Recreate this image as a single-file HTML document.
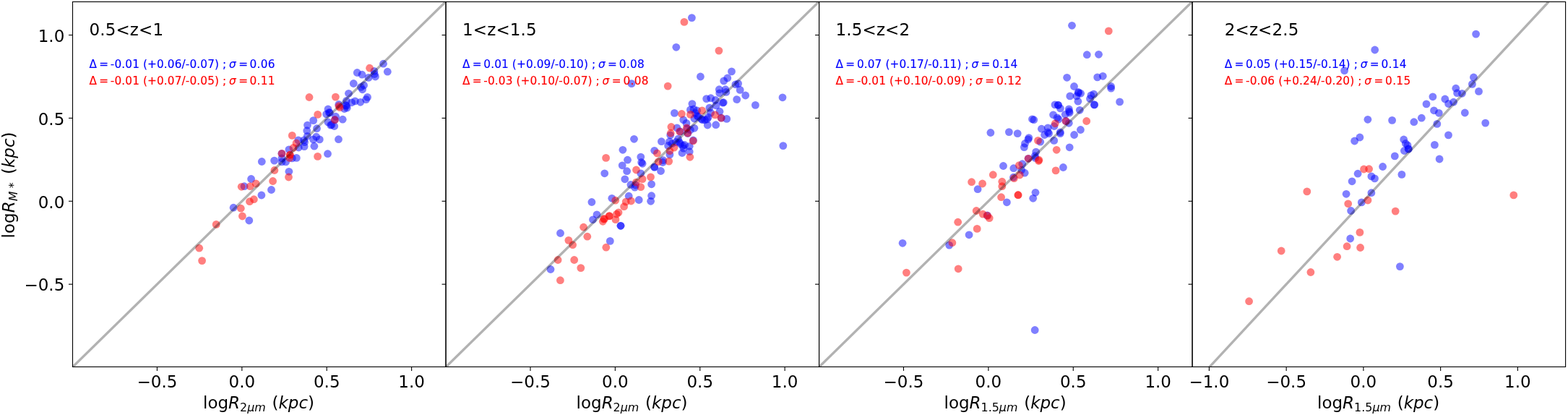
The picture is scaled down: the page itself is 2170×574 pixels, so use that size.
<!DOCTYPE html>
<html lang="en"><head><meta charset="utf-8"><title>log R comparison</title>
<style>
html,body{margin:0;padding:0;background:#fff;}
body{width:2170px;height:574px;overflow:hidden;}
svg{display:block;}
text{font-family:"DejaVu Sans","Liberation Sans",sans-serif;fill:#000;}
.tk{font-size:23px;}
.lb{font-size:23px;}
.tt{font-size:23px;letter-spacing:0.12px;}
.an{font-size:15.3px;stroke-width:0.15px;stroke-linejoin:round;}
.it{font-style:italic;}
.sb{font-size:15.9px;font-style:italic;}
.sn{font-size:15.9px;}
.b{fill:#0000ff;fill-opacity:0.5;}
.r{fill:#ff0000;fill-opacity:0.5;}
.sp{fill:none;stroke:#000;stroke-width:1.11;stroke-linecap:square;}
.t{stroke:#000;stroke-width:1.11;}
.dg{stroke:#000;stroke-opacity:0.3;stroke-width:3.4;stroke-linecap:butt;}
</style></head><body>
<svg width="2170" height="574" viewBox="0 0 2170 574" role="img" aria-label="log R comparison in four redshift bins">
<rect x="0" y="0" width="2170" height="574" fill="#ffffff"/>
<defs>
<clipPath id="c0"><rect x="100.5" y="2.5" width="516.52" height="504.9"/></clipPath>
<clipPath id="c1"><rect x="617.02" y="2.5" width="516.52" height="504.9"/></clipPath>
<clipPath id="c2"><rect x="1133.55" y="2.5" width="516.52" height="504.9"/></clipPath>
<clipPath id="c3"><rect x="1650.07" y="2.5" width="516.52" height="504.9"/></clipPath>
</defs>
<g id="panel1">
<g clip-path="url(#c0)">
<circle class="b" cx="530.5" cy="88.2" r="5.4"/>
<circle class="b" cx="536.3" cy="99.2" r="5.4"/>
<circle class="b" cx="517.9" cy="98.4" r="5.4"/>
<circle class="b" cx="518.2" cy="102.5" r="5.4"/>
<circle class="b" cx="519.5" cy="106" r="5.4"/>
<circle class="b" cx="494.3" cy="100.5" r="5.4"/>
<circle class="b" cx="501" cy="103.2" r="5.4"/>
<circle class="b" cx="510" cy="107.4" r="5.4"/>
<circle class="b" cx="489.3" cy="115.5" r="5.4"/>
<circle class="b" cx="503.6" cy="118" r="5.4"/>
<circle class="b" cx="499.4" cy="120.4" r="5.4"/>
<circle class="b" cx="501.6" cy="123.8" r="5.4"/>
<circle class="b" cx="482.5" cy="129.3" r="5.4"/>
<circle class="b" cx="508.5" cy="134.4" r="5.4"/>
<circle class="b" cx="506.6" cy="137.6" r="5.4"/>
<circle class="b" cx="498.8" cy="141.3" r="5.4"/>
<circle class="b" cx="491.4" cy="139.9" r="5.4"/>
<circle class="b" cx="486.8" cy="141.8" r="5.4"/>
<circle class="b" cx="479.4" cy="139.5" r="5.4"/>
<circle class="b" cx="478.5" cy="145.5" r="5.4"/>
<circle class="b" cx="480.3" cy="149.2" r="5.4"/>
<circle class="b" cx="476.6" cy="150.5" r="5.4"/>
<circle class="b" cx="468.8" cy="144.5" r="5.4"/>
<circle class="b" cx="454" cy="151" r="5.4"/>
<circle class="b" cx="455.4" cy="155.6" r="5.4"/>
<circle class="b" cx="451.7" cy="157.9" r="5.4"/>
<circle class="b" cx="474.2" cy="165.2" r="5.4"/>
<circle class="b" cx="464.6" cy="161.2" r="5.4"/>
<circle class="b" cx="453.9" cy="168.9" r="5.4"/>
<circle class="b" cx="457.6" cy="173.1" r="5.4"/>
<circle class="b" cx="462.7" cy="174.5" r="5.4"/>
<circle class="b" cx="433.7" cy="166.6" r="5.4"/>
<circle class="b" cx="425.5" cy="173.1" r="5.4"/>
<circle class="b" cx="424.8" cy="180.7" r="5.4"/>
<circle class="b" cx="438.5" cy="177.7" r="5.4"/>
<circle class="b" cx="425.3" cy="188.3" r="5.4"/>
<circle class="b" cx="437.7" cy="189.2" r="5.4"/>
<circle class="b" cx="442.3" cy="192.9" r="5.4"/>
<circle class="b" cx="433.6" cy="192.9" r="5.4"/>
<circle class="b" cx="434.9" cy="202.2" r="5.4"/>
<circle class="b" cx="420.6" cy="193.9" r="5.4"/>
<circle class="b" cx="421.6" cy="196.6" r="5.4"/>
<circle class="b" cx="421.1" cy="202.6" r="5.4"/>
<circle class="b" cx="412.8" cy="193.9" r="5.4"/>
<circle class="b" cx="413.3" cy="204" r="5.4"/>
<circle class="b" cx="399.9" cy="206.8" r="5.4"/>
<circle class="b" cx="468.5" cy="192.7" r="5.4"/>
<circle class="b" cx="453.5" cy="212.7" r="5.4"/>
<circle class="b" cx="410.3" cy="218.4" r="5.4"/>
<circle class="b" cx="404.3" cy="218.9" r="5.4"/>
<circle class="b" cx="390" cy="218.9" r="5.4"/>
<circle class="b" cx="390" cy="223.9" r="5.4"/>
<circle class="b" cx="395.6" cy="223.9" r="5.4"/>
<circle class="b" cx="379.6" cy="222.1" r="5.4"/>
<circle class="b" cx="362.3" cy="223.5" r="5.4"/>
<circle class="b" cx="399.9" cy="237.3" r="5.4"/>
<circle class="b" cx="347.6" cy="247.5" r="5.4"/>
<circle class="b" cx="338.1" cy="257.7" r="5.4"/>
<circle class="b" cx="375.5" cy="262.5" r="5.4"/>
<circle class="b" cx="361.9" cy="270" r="5.4"/>
<circle class="b" cx="323.1" cy="287.2" r="5.4"/>
<circle class="b" cx="344.8" cy="305" r="5.4"/>
<circle class="b" cx="389.9" cy="212.3" r="5.4"/>
<circle class="b" cx="463.4" cy="165.7" r="5.4"/>
<circle class="b" cx="456.5" cy="156" r="5.4"/>
<circle class="b" cx="459" cy="172.5" r="5.4"/>
<circle class="b" cx="479.5" cy="146.5" r="5.4"/>
<circle class="r" cx="511.6" cy="94.2" r="5.4"/>
<circle class="r" cx="428" cy="134.5" r="5.4"/>
<circle class="r" cx="464.4" cy="134.1" r="5.4"/>
<circle class="r" cx="468.9" cy="146.7" r="5.4"/>
<circle class="r" cx="470.3" cy="148.6" r="5.4"/>
<circle class="r" cx="439.7" cy="158.4" r="5.4"/>
<circle class="r" cx="463.4" cy="165.7" r="5.4"/>
<circle class="r" cx="404.3" cy="187.4" r="5.4"/>
<circle class="r" cx="410" cy="198" r="5.4"/>
<circle class="r" cx="405.9" cy="204.5" r="5.4"/>
<circle class="r" cx="390" cy="212.4" r="5.4"/>
<circle class="r" cx="401.3" cy="214.2" r="5.4"/>
<circle class="r" cx="401.3" cy="214.2" r="5.4"/>
<circle class="r" cx="400.8" cy="218.5" r="5.4"/>
<circle class="r" cx="439.6" cy="216.4" r="5.4"/>
<circle class="r" cx="379.9" cy="235.5" r="5.4"/>
<circle class="r" cx="399.5" cy="245" r="5.4"/>
<circle class="r" cx="377.6" cy="250.5" r="5.4"/>
<circle class="r" cx="354.2" cy="254" r="5.4"/>
<circle class="r" cx="346.2" cy="257.7" r="5.4"/>
<circle class="r" cx="334.2" cy="258.3" r="5.4"/>
<circle class="r" cx="351.4" cy="275.7" r="5.4"/>
<circle class="r" cx="345.5" cy="278.7" r="5.4"/>
<circle class="r" cx="333.3" cy="288.2" r="5.4"/>
<circle class="r" cx="335.4" cy="299" r="5.4"/>
<circle class="r" cx="299.2" cy="310.4" r="5.4"/>
<circle class="r" cx="275.7" cy="343.2" r="5.4"/>
<circle class="r" cx="279.6" cy="360.6" r="5.4"/>
<line class="dg" x1="100.05" y1="508.05" x2="616.57" y2="2.55"/>
</g>
<line class="t" x1="217.44" y1="507.4" x2="217.44" y2="512.9"/>
<text class="tk" text-anchor="middle" x="217.44" y="535.8">−0.5</text>
<line class="t" x1="334.83" y1="507.4" x2="334.83" y2="512.9"/>
<text class="tk" text-anchor="middle" x="334.83" y="535.8">0.0</text>
<line class="t" x1="452.23" y1="507.4" x2="452.23" y2="512.9"/>
<text class="tk" text-anchor="middle" x="452.23" y="535.8">0.5</text>
<line class="t" x1="569.62" y1="507.4" x2="569.62" y2="512.9"/>
<text class="tk" text-anchor="middle" x="569.62" y="535.8">1.0</text>
<line class="t" x1="95" y1="393.16" x2="100.5" y2="393.16"/>
<text class="tk" text-anchor="end" x="89.3" y="402.46">−0.5</text>
<line class="t" x1="95" y1="278.28" x2="100.5" y2="278.28"/>
<text class="tk" text-anchor="end" x="89.3" y="287.58">0.0</text>
<line class="t" x1="95" y1="163.39" x2="100.5" y2="163.39"/>
<text class="tk" text-anchor="end" x="89.3" y="172.69">0.5</text>
<line class="t" x1="95" y1="48.5" x2="100.5" y2="48.5"/>
<text class="tk" text-anchor="end" x="89.3" y="57.8">1.0</text>
<rect class="sp" x="100.5" y="2.5" width="516.52" height="504.9"/>
<text class="tt" x="123.53" y="48.8">0.5&lt;z&lt;1</text>
<text class="an" style="fill:#0000ff;stroke:#0000ff" x="123.53" y="93.7">Δ<tspan dx="3.3">=</tspan><tspan dx="2.7" style="letter-spacing:0.12px">-0.01 (+0.06/-0.07) ;</tspan><tspan class="it" dx="3.7">σ</tspan><tspan dx="3.4">=</tspan><tspan dx="2.4" style="letter-spacing:0.33px">0.06</tspan></text>
<text class="an" style="fill:#ff0000;stroke:#ff0000" x="123.53" y="117">Δ<tspan dx="3.3">=</tspan><tspan dx="2.7" style="letter-spacing:0.12px">-0.01 (+0.07/-0.05) ;</tspan><tspan class="it" dx="3.7">σ</tspan><tspan dx="3.4">=</tspan><tspan dx="2.4" style="letter-spacing:0.33px">0.11</tspan></text>
<text class="lb" text-anchor="middle" x="358.06" y="564.8">log<tspan class="it">R</tspan><tspan class="sn" dy="3.7">2</tspan><tspan class="sb">μm</tspan><tspan dy="-3.7" dx="1.4"> (</tspan><tspan class="it">kpc</tspan>)</text>
</g>
<g id="panel2">
<g clip-path="url(#c1)">
<circle class="b" cx="957.4" cy="24.6" r="5.4"/>
<circle class="b" cx="935.8" cy="65.3" r="5.4"/>
<circle class="b" cx="1012.5" cy="98.9" r="5.4"/>
<circle class="b" cx="874" cy="115.6" r="5.4"/>
<circle class="b" cx="1083.8" cy="201.6" r="5.4"/>
<circle class="b" cx="969.4" cy="106" r="5.4"/>
<circle class="b" cx="1006.8" cy="108" r="5.4"/>
<circle class="b" cx="1001.7" cy="111.9" r="5.4"/>
<circle class="b" cx="1017.9" cy="116.8" r="5.4"/>
<circle class="b" cx="1021.6" cy="115.6" r="5.4"/>
<circle class="b" cx="1024.2" cy="124.4" r="5.4"/>
<circle class="b" cx="1031.7" cy="132" r="5.4"/>
<circle class="b" cx="1019.7" cy="137.6" r="5.4"/>
<circle class="b" cx="1083" cy="134.8" r="5.4"/>
<circle class="b" cx="995.3" cy="123.7" r="5.4"/>
<circle class="b" cx="1004" cy="123.7" r="5.4"/>
<circle class="b" cx="995.7" cy="128.8" r="5.4"/>
<circle class="b" cx="1004.9" cy="127.4" r="5.4"/>
<circle class="b" cx="977.7" cy="136.6" r="5.4"/>
<circle class="b" cx="983.7" cy="135.7" r="5.4"/>
<circle class="b" cx="990.2" cy="138.5" r="5.4"/>
<circle class="b" cx="1001.3" cy="141.7" r="5.4"/>
<circle class="b" cx="1000.3" cy="142.2" r="5.4"/>
<circle class="b" cx="957.9" cy="143.6" r="5.4"/>
<circle class="b" cx="981.9" cy="149.1" r="5.4"/>
<circle class="b" cx="991.1" cy="145.9" r="5.4"/>
<circle class="b" cx="1045.4" cy="145.4" r="5.4"/>
<circle class="b" cx="996" cy="154.2" r="5.4"/>
<circle class="b" cx="955.4" cy="151.9" r="5.4"/>
<circle class="b" cx="960" cy="151" r="5.4"/>
<circle class="b" cx="964.6" cy="152.9" r="5.4"/>
<circle class="b" cx="933.4" cy="156.4" r="5.4"/>
<circle class="b" cx="964.6" cy="160.2" r="5.4"/>
<circle class="b" cx="960.9" cy="163.9" r="5.4"/>
<circle class="b" cx="972" cy="165.8" r="5.4"/>
<circle class="b" cx="978.5" cy="164.9" r="5.4"/>
<circle class="b" cx="980.3" cy="162.1" r="5.4"/>
<circle class="b" cx="1005.7" cy="164.4" r="5.4"/>
<circle class="b" cx="945.7" cy="165.8" r="5.4"/>
<circle class="b" cx="949.9" cy="170.4" r="5.4"/>
<circle class="b" cx="979.2" cy="173" r="5.4"/>
<circle class="b" cx="990.7" cy="172.7" r="5.4"/>
<circle class="b" cx="960.9" cy="177.3" r="5.4"/>
<circle class="b" cx="955.4" cy="179.6" r="5.4"/>
<circle class="b" cx="936.9" cy="176.9" r="5.4"/>
<circle class="b" cx="927.7" cy="187" r="5.4"/>
<circle class="b" cx="877.5" cy="192.3" r="5.4"/>
<circle class="b" cx="861.9" cy="207.3" r="5.4"/>
<circle class="b" cx="915.4" cy="195.7" r="5.4"/>
<circle class="b" cx="959.4" cy="194" r="5.4"/>
<circle class="b" cx="938.5" cy="192.2" r="5.4"/>
<circle class="b" cx="926.5" cy="195.9" r="5.4"/>
<circle class="b" cx="924.6" cy="201.4" r="5.4"/>
<circle class="b" cx="940.3" cy="196.8" r="5.4"/>
<circle class="b" cx="944.9" cy="201.4" r="5.4"/>
<circle class="b" cx="945.9" cy="205.1" r="5.4"/>
<circle class="b" cx="954.2" cy="202.3" r="5.4"/>
<circle class="b" cx="954.2" cy="209.7" r="5.4"/>
<circle class="b" cx="944" cy="211.5" r="5.4"/>
<circle class="b" cx="905.7" cy="208.3" r="5.4"/>
<circle class="b" cx="926.9" cy="213.9" r="5.4"/>
<circle class="b" cx="886.8" cy="217.1" r="5.4"/>
<circle class="b" cx="868.5" cy="221.2" r="5.4"/>
<circle class="b" cx="887.7" cy="224.5" r="5.4"/>
<circle class="b" cx="889.1" cy="226.3" r="5.4"/>
<circle class="b" cx="917.7" cy="221.7" r="5.4"/>
<circle class="b" cx="917.2" cy="224.5" r="5.4"/>
<circle class="b" cx="861.2" cy="228.8" r="5.4"/>
<circle class="b" cx="905.7" cy="231.2" r="5.4"/>
<circle class="b" cx="905.7" cy="231.2" r="5.4"/>
<circle class="b" cx="914.5" cy="236.5" r="5.4"/>
<circle class="b" cx="867.6" cy="236.7" r="5.4"/>
<circle class="b" cx="836.7" cy="239.8" r="5.4"/>
<circle class="b" cx="886.8" cy="239.8" r="5.4"/>
<circle class="b" cx="864.8" cy="247.8" r="5.4"/>
<circle class="b" cx="901.6" cy="254.8" r="5.4"/>
<circle class="b" cx="872.9" cy="255.5" r="5.4"/>
<circle class="b" cx="878.5" cy="259.2" r="5.4"/>
<circle class="b" cx="870.2" cy="271.2" r="5.4"/>
<circle class="b" cx="901.6" cy="270.7" r="5.4"/>
<circle class="b" cx="846.8" cy="274.3" r="5.4"/>
<circle class="b" cx="884.2" cy="276.5" r="5.4"/>
<circle class="b" cx="900.6" cy="278.3" r="5.4"/>
<circle class="b" cx="818.9" cy="279.5" r="5.4"/>
<circle class="b" cx="826" cy="296.8" r="5.4"/>
<circle class="b" cx="820.5" cy="303.8" r="5.4"/>
<circle class="b" cx="859" cy="312.3" r="5.4"/>
<circle class="b" cx="859" cy="312.3" r="5.4"/>
<circle class="b" cx="775.5" cy="322.5" r="5.4"/>
<circle class="b" cx="844.3" cy="333.4" r="5.4"/>
<circle class="b" cx="762" cy="372.5" r="5.4"/>
<circle class="b" cx="941.5" cy="182" r="5.4"/>
<circle class="b" cx="951" cy="178" r="5.4"/>
<circle class="b" cx="951.8" cy="184.5" r="5.4"/>
<circle class="b" cx="962.5" cy="156.5" r="5.4"/>
<circle class="b" cx="966.5" cy="161.5" r="5.4"/>
<circle class="b" cx="970.5" cy="164.5" r="5.4"/>
<circle class="b" cx="975.5" cy="166" r="5.4"/>
<circle class="b" cx="998.2" cy="163.1" r="5.4"/>
<circle class="b" cx="930.1" cy="198.6" r="5.4"/>
<circle class="b" cx="935.5" cy="196.5" r="5.4"/>
<circle class="b" cx="941.5" cy="199" r="5.4"/>
<circle class="b" cx="947.5" cy="200.5" r="5.4"/>
<circle class="b" cx="879.5" cy="256" r="5.4"/>
<circle class="b" cx="983.6" cy="156.1" r="5.4"/>
<circle class="r" cx="946.9" cy="30.4" r="5.4"/>
<circle class="r" cx="994.9" cy="70.1" r="5.4"/>
<circle class="r" cx="924.2" cy="119.1" r="5.4"/>
<circle class="r" cx="971.6" cy="152.9" r="5.4"/>
<circle class="r" cx="943.4" cy="157.5" r="5.4"/>
<circle class="r" cx="955.4" cy="158.4" r="5.4"/>
<circle class="r" cx="989.6" cy="158.9" r="5.4"/>
<circle class="r" cx="998.1" cy="163.2" r="5.4"/>
<circle class="r" cx="928.9" cy="175.5" r="5.4"/>
<circle class="r" cx="950.3" cy="176.9" r="5.4"/>
<circle class="r" cx="940.6" cy="181.9" r="5.4"/>
<circle class="r" cx="951.7" cy="184.2" r="5.4"/>
<circle class="r" cx="928.2" cy="184.2" r="5.4"/>
<circle class="r" cx="959.3" cy="194.9" r="5.4"/>
<circle class="r" cx="932.9" cy="204.2" r="5.4"/>
<circle class="r" cx="926.9" cy="208.8" r="5.4"/>
<circle class="r" cx="909.4" cy="212" r="5.4"/>
<circle class="r" cx="954.9" cy="217.3" r="5.4"/>
<circle class="r" cx="925.7" cy="223.1" r="5.4"/>
<circle class="r" cx="911.2" cy="223.6" r="5.4"/>
<circle class="r" cx="880.5" cy="235" r="5.4"/>
<circle class="r" cx="900.5" cy="244.9" r="5.4"/>
<circle class="r" cx="889.1" cy="247.6" r="5.4"/>
<circle class="r" cx="880.3" cy="252.2" r="5.4"/>
<circle class="r" cx="886.8" cy="258.7" r="5.4"/>
<circle class="r" cx="851.7" cy="277.2" r="5.4"/>
<circle class="r" cx="873.4" cy="278" r="5.4"/>
<circle class="r" cx="866.2" cy="279.1" r="5.4"/>
<circle class="r" cx="863.6" cy="285.7" r="5.4"/>
<circle class="r" cx="856" cy="293.9" r="5.4"/>
<circle class="r" cx="853.3" cy="296.2" r="5.4"/>
<circle class="r" cx="843.1" cy="298.9" r="5.4"/>
<circle class="r" cx="836.6" cy="302.6" r="5.4"/>
<circle class="r" cx="835.5" cy="303" r="5.4"/>
<circle class="r" cx="851.9" cy="303.6" r="5.4"/>
<circle class="r" cx="834.3" cy="306.3" r="5.4"/>
<circle class="r" cx="807.6" cy="314.2" r="5.4"/>
<circle class="r" cx="812.8" cy="327.2" r="5.4"/>
<circle class="r" cx="786.9" cy="332.4" r="5.4"/>
<circle class="r" cx="792.6" cy="338.7" r="5.4"/>
<circle class="r" cx="838.8" cy="342.2" r="5.4"/>
<circle class="r" cx="772.1" cy="359.5" r="5.4"/>
<circle class="r" cx="794.7" cy="359.5" r="5.4"/>
<circle class="r" cx="803.8" cy="370.6" r="5.4"/>
<circle class="r" cx="775.4" cy="387.7" r="5.4"/>
<circle class="r" cx="838.6" cy="218.4" r="5.4"/>
<circle class="r" cx="843.4" cy="298.6" r="5.4"/>
<line class="dg" x1="616.57" y1="508.05" x2="1133.1" y2="2.55"/>
</g>
<line class="t" x1="733.97" y1="507.4" x2="733.97" y2="512.9"/>
<text class="tk" text-anchor="middle" x="733.97" y="535.8">−0.5</text>
<line class="t" x1="851.36" y1="507.4" x2="851.36" y2="512.9"/>
<text class="tk" text-anchor="middle" x="851.36" y="535.8">0.0</text>
<line class="t" x1="968.75" y1="507.4" x2="968.75" y2="512.9"/>
<text class="tk" text-anchor="middle" x="968.75" y="535.8">0.5</text>
<line class="t" x1="1086.14" y1="507.4" x2="1086.14" y2="512.9"/>
<text class="tk" text-anchor="middle" x="1086.14" y="535.8">1.0</text>
<line class="t" x1="611.52" y1="393.16" x2="617.02" y2="393.16"/>
<line class="t" x1="611.52" y1="278.28" x2="617.02" y2="278.28"/>
<line class="t" x1="611.52" y1="163.39" x2="617.02" y2="163.39"/>
<line class="t" x1="611.52" y1="48.5" x2="617.02" y2="48.5"/>
<rect class="sp" x="617.02" y="2.5" width="516.52" height="504.9"/>
<text class="tt" x="640.05" y="48.8">1&lt;z&lt;1.5</text>
<text class="an" style="fill:#0000ff;stroke:#0000ff" x="640.05" y="93.7">Δ<tspan dx="3.3">=</tspan><tspan dx="2.7" style="letter-spacing:0.12px">0.01 (+0.09/-0.10) ;</tspan><tspan class="it" dx="3.7">σ</tspan><tspan dx="3.4">=</tspan><tspan dx="2.9" style="letter-spacing:0.33px">0.08</tspan></text>
<text class="an" style="fill:#ff0000;stroke:#ff0000" x="640.05" y="117">Δ<tspan dx="3.3">=</tspan><tspan dx="2.7" style="letter-spacing:0.12px">-0.03 (+0.10/-0.07) ;</tspan><tspan class="it" dx="3.7">σ</tspan><tspan dx="3.4">=</tspan><tspan dx="2.9" style="letter-spacing:0.33px">0.08</tspan></text>
<text class="lb" text-anchor="middle" x="874.59" y="564.8">log<tspan class="it">R</tspan><tspan class="sn" dy="3.7">2</tspan><tspan class="sb">μm</tspan><tspan dy="-3.7" dx="1.4"> (</tspan><tspan class="it">kpc</tspan>)</text>
</g>
<g id="panel3">
<g clip-path="url(#c2)">
<circle class="b" cx="1483.5" cy="35.3" r="5.4"/>
<circle class="b" cx="1504.3" cy="75.7" r="5.4"/>
<circle class="b" cx="1520.5" cy="75.3" r="5.4"/>
<circle class="b" cx="1518.7" cy="106.9" r="5.4"/>
<circle class="b" cx="1526.3" cy="105.3" r="5.4"/>
<circle class="b" cx="1476.6" cy="107.3" r="5.4"/>
<circle class="b" cx="1486.5" cy="119.5" r="5.4"/>
<circle class="b" cx="1537.6" cy="119.5" r="5.4"/>
<circle class="b" cx="1537.6" cy="122.2" r="5.4"/>
<circle class="b" cx="1492.3" cy="127.3" r="5.4"/>
<circle class="b" cx="1495.6" cy="129.2" r="5.4"/>
<circle class="b" cx="1490" cy="132.9" r="5.4"/>
<circle class="b" cx="1491.9" cy="140.2" r="5.4"/>
<circle class="b" cx="1480.8" cy="132.9" r="5.4"/>
<circle class="b" cx="1513.6" cy="130.1" r="5.4"/>
<circle class="b" cx="1509.9" cy="131.9" r="5.4"/>
<circle class="b" cx="1508.5" cy="136.5" r="5.4"/>
<circle class="b" cx="1514.5" cy="144.9" r="5.4"/>
<circle class="b" cx="1514.5" cy="144.9" r="5.4"/>
<circle class="b" cx="1549.6" cy="140.9" r="5.4"/>
<circle class="b" cx="1460" cy="144.9" r="5.4"/>
<circle class="b" cx="1464.6" cy="145.3" r="5.4"/>
<circle class="b" cx="1467.4" cy="149.9" r="5.4"/>
<circle class="b" cx="1479.3" cy="150.9" r="5.4"/>
<circle class="b" cx="1480.2" cy="156" r="5.4"/>
<circle class="b" cx="1474.2" cy="158.3" r="5.4"/>
<circle class="b" cx="1494.3" cy="152.3" r="5.4"/>
<circle class="b" cx="1457.6" cy="158.8" r="5.4"/>
<circle class="b" cx="1463.1" cy="162.9" r="5.4"/>
<circle class="b" cx="1465" cy="165" r="5.4"/>
<circle class="b" cx="1428.5" cy="164.8" r="5.4"/>
<circle class="b" cx="1430.8" cy="165.7" r="5.4"/>
<circle class="b" cx="1475.1" cy="167.5" r="5.4"/>
<circle class="b" cx="1479.3" cy="170.3" r="5.4"/>
<circle class="b" cx="1458.9" cy="174.5" r="5.4"/>
<circle class="b" cx="1441.4" cy="178.2" r="5.4"/>
<circle class="b" cx="1450.2" cy="176.8" r="5.4"/>
<circle class="b" cx="1450.2" cy="182.8" r="5.4"/>
<circle class="b" cx="1451.6" cy="184.6" r="5.4"/>
<circle class="b" cx="1445.6" cy="186.5" r="5.4"/>
<circle class="b" cx="1467.3" cy="182.8" r="5.4"/>
<circle class="b" cx="1467.3" cy="184.6" r="5.4"/>
<circle class="b" cx="1495.4" cy="179.5" r="5.4"/>
<circle class="b" cx="1486.6" cy="186.5" r="5.4"/>
<circle class="b" cx="1396.4" cy="182.6" r="5.4"/>
<circle class="b" cx="1408.2" cy="184.6" r="5.4"/>
<circle class="b" cx="1423.9" cy="190.6" r="5.4"/>
<circle class="b" cx="1422.9" cy="192.9" r="5.4"/>
<circle class="b" cx="1370.9" cy="183.5" r="5.4"/>
<circle class="b" cx="1418.5" cy="198.5" r="5.4"/>
<circle class="b" cx="1417.4" cy="203.6" r="5.4"/>
<circle class="b" cx="1439.7" cy="196.2" r="5.4"/>
<circle class="b" cx="1458.7" cy="194.4" r="5.4"/>
<circle class="b" cx="1480.2" cy="203.8" r="5.4"/>
<circle class="b" cx="1433.7" cy="210.1" r="5.4"/>
<circle class="b" cx="1432.3" cy="215.6" r="5.4"/>
<circle class="b" cx="1432.8" cy="218.4" r="5.4"/>
<circle class="b" cx="1423.1" cy="219.3" r="5.4"/>
<circle class="b" cx="1414.8" cy="226.7" r="5.4"/>
<circle class="b" cx="1388.5" cy="229.5" r="5.4"/>
<circle class="b" cx="1402.8" cy="232.7" r="5.4"/>
<circle class="b" cx="1471.4" cy="231.5" r="5.4"/>
<circle class="b" cx="1413.6" cy="235.1" r="5.4"/>
<circle class="b" cx="1418.2" cy="239.2" r="5.4"/>
<circle class="b" cx="1402.5" cy="245.2" r="5.4"/>
<circle class="b" cx="1353.1" cy="261.7" r="5.4"/>
<circle class="b" cx="1433" cy="266.3" r="5.4"/>
<circle class="b" cx="1429.7" cy="274.3" r="5.4"/>
<circle class="b" cx="1393.4" cy="279.8" r="5.4"/>
<circle class="b" cx="1366.2" cy="297.9" r="5.4"/>
<circle class="b" cx="1341.1" cy="324.8" r="5.4"/>
<circle class="b" cx="1249.1" cy="336.3" r="5.4"/>
<circle class="b" cx="1313.7" cy="339.1" r="5.4"/>
<circle class="b" cx="1432.2" cy="456.5" r="5.4"/>
<circle class="b" cx="1464.3" cy="145.3" r="5.4"/>
<circle class="b" cx="1479.7" cy="154" r="5.4"/>
<circle class="b" cx="1492.5" cy="128.5" r="5.4"/>
<circle class="r" cx="1534.3" cy="42.9" r="5.4"/>
<circle class="r" cx="1503.7" cy="167.5" r="5.4"/>
<circle class="r" cx="1475.1" cy="167.5" r="5.4"/>
<circle class="r" cx="1460.3" cy="170.8" r="5.4"/>
<circle class="r" cx="1436.5" cy="194.4" r="5.4"/>
<circle class="r" cx="1462.2" cy="207.3" r="5.4"/>
<circle class="r" cx="1423.1" cy="219.3" r="5.4"/>
<circle class="r" cx="1437.9" cy="221.2" r="5.4"/>
<circle class="r" cx="1437.4" cy="222.5" r="5.4"/>
<circle class="r" cx="1410.4" cy="228.6" r="5.4"/>
<circle class="r" cx="1461.1" cy="235.9" r="5.4"/>
<circle class="r" cx="1374.3" cy="241.7" r="5.4"/>
<circle class="r" cx="1411.3" cy="242" r="5.4"/>
<circle class="r" cx="1403.4" cy="246.6" r="5.4"/>
<circle class="r" cx="1344.6" cy="251.7" r="5.4"/>
<circle class="r" cx="1359.6" cy="254" r="5.4"/>
<circle class="r" cx="1386.8" cy="251.2" r="5.4"/>
<circle class="r" cx="1386.8" cy="257.7" r="5.4"/>
<circle class="r" cx="1409" cy="269.7" r="5.4"/>
<circle class="r" cx="1409" cy="269.7" r="5.4"/>
<circle class="r" cx="1385.6" cy="272.7" r="5.4"/>
<circle class="r" cx="1351.2" cy="291.5" r="5.4"/>
<circle class="r" cx="1360.2" cy="296.1" r="5.4"/>
<circle class="r" cx="1366.6" cy="298.4" r="5.4"/>
<circle class="r" cx="1369.2" cy="301.6" r="5.4"/>
<circle class="r" cx="1325.7" cy="307.2" r="5.4"/>
<circle class="r" cx="1352.2" cy="316.4" r="5.4"/>
<circle class="r" cx="1317.9" cy="335.7" r="5.4"/>
<circle class="r" cx="1254.4" cy="377.1" r="5.4"/>
<circle class="r" cx="1326.2" cy="371.8" r="5.4"/>
<line class="dg" x1="1133.1" y1="508.05" x2="1649.62" y2="2.55"/>
</g>
<line class="t" x1="1250.49" y1="507.4" x2="1250.49" y2="512.9"/>
<text class="tk" text-anchor="middle" x="1250.49" y="535.8">−0.5</text>
<line class="t" x1="1367.88" y1="507.4" x2="1367.88" y2="512.9"/>
<text class="tk" text-anchor="middle" x="1367.88" y="535.8">0.0</text>
<line class="t" x1="1485.28" y1="507.4" x2="1485.28" y2="512.9"/>
<text class="tk" text-anchor="middle" x="1485.28" y="535.8">0.5</text>
<line class="t" x1="1602.67" y1="507.4" x2="1602.67" y2="512.9"/>
<text class="tk" text-anchor="middle" x="1602.67" y="535.8">1.0</text>
<line class="t" x1="1128.05" y1="393.16" x2="1133.55" y2="393.16"/>
<line class="t" x1="1128.05" y1="278.28" x2="1133.55" y2="278.28"/>
<line class="t" x1="1128.05" y1="163.39" x2="1133.55" y2="163.39"/>
<line class="t" x1="1128.05" y1="48.5" x2="1133.55" y2="48.5"/>
<rect class="sp" x="1133.55" y="2.5" width="516.52" height="504.9"/>
<text class="tt" x="1156.58" y="48.8">1.5&lt;z&lt;2</text>
<text class="an" style="fill:#0000ff;stroke:#0000ff" x="1156.58" y="93.7">Δ<tspan dx="3.3">=</tspan><tspan dx="2.7" style="letter-spacing:0.12px">0.07 (+0.17/-0.11) ;</tspan><tspan class="it" dx="3.7">σ</tspan><tspan dx="3.4">=</tspan><tspan dx="2.9" style="letter-spacing:0.33px">0.14</tspan></text>
<text class="an" style="fill:#ff0000;stroke:#ff0000" x="1156.58" y="117">Δ<tspan dx="3.3">=</tspan><tspan dx="2.7" style="letter-spacing:0.12px">-0.01 (+0.10/-0.09) ;</tspan><tspan class="it" dx="3.7">σ</tspan><tspan dx="3.4">=</tspan><tspan dx="2.9" style="letter-spacing:0.33px">0.12</tspan></text>
<text class="lb" text-anchor="middle" x="1391.11" y="564.8">log<tspan class="it">R</tspan><tspan class="sn" dy="3.7">1.5</tspan><tspan class="sb">μm</tspan><tspan dy="-3.7" dx="1.4"> (</tspan><tspan class="it">kpc</tspan>)</text>
</g>
<g id="panel4">
<g clip-path="url(#c3)">
<circle class="b" cx="2042.6" cy="47.1" r="5.4"/>
<circle class="b" cx="1902.7" cy="69" r="5.4"/>
<circle class="b" cx="1860.6" cy="97.6" r="5.4"/>
<circle class="b" cx="2039.4" cy="107" r="5.4"/>
<circle class="b" cx="2037.4" cy="116.4" r="5.4"/>
<circle class="b" cx="2046.5" cy="126.4" r="5.4"/>
<circle class="b" cx="2014.8" cy="122.2" r="5.4"/>
<circle class="b" cx="2016.6" cy="128.7" r="5.4"/>
<circle class="b" cx="2023.4" cy="129.3" r="5.4"/>
<circle class="b" cx="1982.9" cy="133.8" r="5.4"/>
<circle class="b" cx="1999.8" cy="137" r="5.4"/>
<circle class="b" cx="2011.6" cy="141.2" r="5.4"/>
<circle class="b" cx="2004.6" cy="143.5" r="5.4"/>
<circle class="b" cx="1974" cy="143.9" r="5.4"/>
<circle class="b" cx="1984.5" cy="152.8" r="5.4"/>
<circle class="b" cx="1991.3" cy="156.3" r="5.4"/>
<circle class="b" cx="2027.3" cy="156" r="5.4"/>
<circle class="b" cx="1967.3" cy="163.2" r="5.4"/>
<circle class="b" cx="1956.8" cy="168.7" r="5.4"/>
<circle class="b" cx="1926.6" cy="166.4" r="5.4"/>
<circle class="b" cx="1892.9" cy="165.3" r="5.4"/>
<circle class="b" cx="1988.8" cy="171.4" r="5.4"/>
<circle class="b" cx="2055.7" cy="170.1" r="5.4"/>
<circle class="b" cx="2004.5" cy="186.9" r="5.4"/>
<circle class="b" cx="1881.9" cy="190" r="5.4"/>
<circle class="b" cx="1942.7" cy="193" r="5.4"/>
<circle class="b" cx="1874.6" cy="195" r="5.4"/>
<circle class="b" cx="1945.3" cy="198.5" r="5.4"/>
<circle class="b" cx="1948" cy="200.9" r="5.4"/>
<circle class="b" cx="1949.4" cy="205.9" r="5.4"/>
<circle class="b" cx="1943.4" cy="208.5" r="5.4"/>
<circle class="b" cx="1985.4" cy="200.4" r="5.4"/>
<circle class="b" cx="1930.3" cy="215.9" r="5.4"/>
<circle class="b" cx="1992.1" cy="220" r="5.4"/>
<circle class="b" cx="1913.6" cy="230.5" r="5.4"/>
<circle class="b" cx="1939.9" cy="241.4" r="5.4"/>
<circle class="b" cx="1879.1" cy="240.2" r="5.4"/>
<circle class="b" cx="1897.9" cy="243.9" r="5.4"/>
<circle class="b" cx="1902.5" cy="246.9" r="5.4"/>
<circle class="b" cx="1871.1" cy="250.8" r="5.4"/>
<circle class="b" cx="1863.1" cy="268.3" r="5.4"/>
<circle class="b" cx="1897.9" cy="266.7" r="5.4"/>
<circle class="b" cx="1884.3" cy="279.9" r="5.4"/>
<circle class="b" cx="1869.6" cy="291.5" r="5.4"/>
<circle class="b" cx="1868.7" cy="330" r="5.4"/>
<circle class="b" cx="1937.4" cy="368.6" r="5.4"/>
<circle class="b" cx="1949.1" cy="206.3" r="5.4"/>
<circle class="r" cx="1887.5" cy="234" r="5.4"/>
<circle class="r" cx="1894.6" cy="233.7" r="5.4"/>
<circle class="r" cx="1808.8" cy="264.9" r="5.4"/>
<circle class="r" cx="1893" cy="277" r="5.4"/>
<circle class="r" cx="1865.7" cy="281.8" r="5.4"/>
<circle class="r" cx="1931.2" cy="292.1" r="5.4"/>
<circle class="r" cx="1881.9" cy="321.4" r="5.4"/>
<circle class="r" cx="1864.1" cy="340.7" r="5.4"/>
<circle class="r" cx="1882.6" cy="342.5" r="5.4"/>
<circle class="r" cx="1773.2" cy="347" r="5.4"/>
<circle class="r" cx="1850.6" cy="355.3" r="5.4"/>
<circle class="r" cx="1813.9" cy="376.5" r="5.4"/>
<circle class="r" cx="1728.6" cy="416.7" r="5.4"/>
<circle class="r" cx="2094.8" cy="269.9" r="5.4"/>
<line class="dg" x1="1673.4" y1="508.05" x2="2143.1" y2="2.55"/>
</g>
<line class="t" x1="1673.4" y1="507.4" x2="1673.4" y2="512.9"/>
<text class="tk" text-anchor="middle" x="1673.4" y="535.8">−1.0</text>
<line class="t" x1="1780.15" y1="507.4" x2="1780.15" y2="512.9"/>
<text class="tk" text-anchor="middle" x="1780.15" y="535.8">−0.5</text>
<line class="t" x1="1886.9" y1="507.4" x2="1886.9" y2="512.9"/>
<text class="tk" text-anchor="middle" x="1886.9" y="535.8">0.0</text>
<line class="t" x1="1993.65" y1="507.4" x2="1993.65" y2="512.9"/>
<text class="tk" text-anchor="middle" x="1993.65" y="535.8">0.5</text>
<line class="t" x1="2100.4" y1="507.4" x2="2100.4" y2="512.9"/>
<text class="tk" text-anchor="middle" x="2100.4" y="535.8">1.0</text>
<line class="t" x1="1644.57" y1="393.16" x2="1650.07" y2="393.16"/>
<line class="t" x1="1644.57" y1="278.28" x2="1650.07" y2="278.28"/>
<line class="t" x1="1644.57" y1="163.39" x2="1650.07" y2="163.39"/>
<line class="t" x1="1644.57" y1="48.5" x2="1650.07" y2="48.5"/>
<rect class="sp" x="1650.07" y="2.5" width="516.52" height="504.9"/>
<text class="tt" x="1694.75" y="48.8">2&lt;z&lt;2.5</text>
<text class="an" style="fill:#0000ff;stroke:#0000ff" x="1694.75" y="93.7">Δ<tspan dx="3.3">=</tspan><tspan dx="2.7" style="letter-spacing:0.12px">0.05 (+0.15/-0.14) ;</tspan><tspan class="it" dx="3.7">σ</tspan><tspan dx="3.4">=</tspan><tspan dx="2.9" style="letter-spacing:0.33px">0.14</tspan></text>
<text class="an" style="fill:#ff0000;stroke:#ff0000" x="1694.75" y="117">Δ<tspan dx="3.3">=</tspan><tspan dx="2.7" style="letter-spacing:0.12px">-0.06 (+0.24/-0.20) ;</tspan><tspan class="it" dx="3.7">σ</tspan><tspan dx="3.4">=</tspan><tspan dx="2.9" style="letter-spacing:0.33px">0.15</tspan></text>
<text class="lb" text-anchor="middle" x="1907.64" y="564.8">log<tspan class="it">R</tspan><tspan class="sn" dy="3.7">1.5</tspan><tspan class="sb">μm</tspan><tspan dy="-3.7" dx="1.4"> (</tspan><tspan class="it">kpc</tspan>)</text>
</g>
<text class="lb" transform="translate(19.9,329.4) rotate(-90)">log<tspan class="it">R</tspan><tspan class="sb" dy="3.7">M</tspan><tspan class="sn" dx="4.4">*</tspan><tspan dy="-3.7" dx="4"> (</tspan><tspan class="it">kpc</tspan>)</text>
</svg>
</body></html>
